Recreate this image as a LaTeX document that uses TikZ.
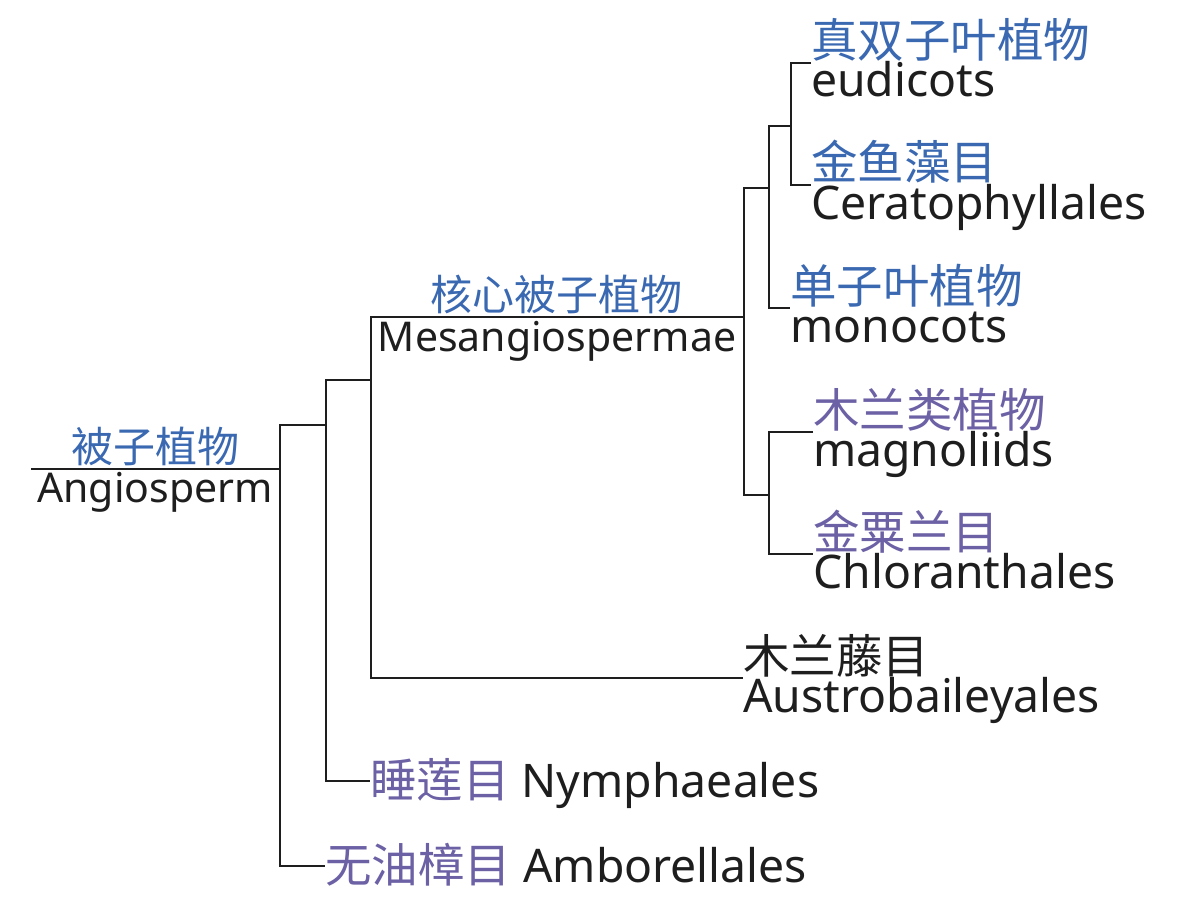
\documentclass[tikz,border=0pt]{standalone}
\usepackage{fontspec}
\setmainfont{Noto Sans}
\newfontfamily\cjk{Noto Sans CJK SC}
\definecolor{cblue}{RGB}{58,105,178}
\definecolor{cpurp}{RGB}{108,97,165}
\definecolor{ink}{RGB}{30,30,30}
\tikzset{
  zh/.style={font=\cjk\fontsize{46.5}{50}\selectfont, inner sep=0pt, anchor=base west},
  en/.style={font=\fontsize{46.3}{50}\selectfont, text=ink, inner sep=0pt, anchor=base west},
  zhs/.style={font=\cjk\fontsize{42}{46}\selectfont, text=cblue, inner sep=0pt, anchor=base},
  ens/.style={font=\fontsize{41}{45}\selectfont, text=ink, inner sep=0pt, anchor=base},
  branch/.style={draw=ink, line width=2.3pt}
}
\newcommand{\zhp}[1]{{\cjk\fontsize{46.5}{50}\selectfont\color{cpurp}#1}}
\begin{document}
\begin{tikzpicture}[x=1pt,y=-1pt]
\useasboundingbox (0,0) rectangle (1192,915);
% branch points
\coordinate (r0) at (31,469);
\coordinate (r1) at (280,469);
\coordinate (b) at (326,425);
\coordinate (c) at (371,380);
\coordinate (d) at (744,317);
\coordinate (e) at (769,188);
\coordinate (f) at (769,495);
\coordinate (g) at (791,126);
% leaf ends
\coordinate (eudL) at (811,63);
\coordinate (cerL) at (811,185);
\coordinate (monL) at (790,308);
\coordinate (magL) at (813,432);
\coordinate (chlL) at (813,554);
\coordinate (ausL) at (743,678);
\coordinate (nymL) at (370,781);
\coordinate (ambL) at (325,866);
% branches
\draw[branch] (r0) -- (r1);
\draw[branch] (b) -| (r1) |- (ambL);
\draw[branch] (c) -| (b) |- (nymL);
\draw[branch] (d) -| (c) |- (ausL);
\draw[branch] (e) -| (d) |- (f);
\draw[branch] (g) -| (e) |- (monL);
\draw[branch] (eudL) -| (g) |- (cerL);
\draw[branch] (magL) -| (f) |- (chlL);
% labels
\node[zh, text=cblue] (eudZ) at (811,58) {真双子叶植物};
\node[en] (eudE) at (811,97) {eudicots};
\node[zh, text=cblue] (cerZ) at (811,180) {金鱼藻目};
\node[en] (cerE) at (811,219) {Ceratophyllales};
\node[zh, text=cblue] (monZ) at (790,303) {单子叶植物};
\node[en] (monE) at (790,342) {monocots};
\node[zh, text=cpurp] (magZ) at (813,427) {木兰类植物};
\node[en] (magE) at (813,466) {magnoliids};
\node[zh, text=cpurp] (chlZ) at (813,549) {金粟兰目};
\node[en] (chlE) at (813,588) {Chloranthales};
\node[zh, text=ink] (ausZ) at (743,673) {木兰藤目};
\node[en] (ausE) at (743,712) {Austrobaileyales};
\node[en] (nym) at (370,797) {\zhp{睡莲目} Nymphaeales};
\node[en] (amb) at (325,882) {\zhp{无油樟目} Amborellales};
\node[zhs] (angZ) at (155,462) {被子植物};
\node[ens] (angE) at (155,502) {Angiosperm};
\node[zhs] (mesZ) at (556,310) {核心被子植物};
\node[ens] (mesE) at (557,351) {Mesangiospermae};
\end{tikzpicture}
\end{document}
